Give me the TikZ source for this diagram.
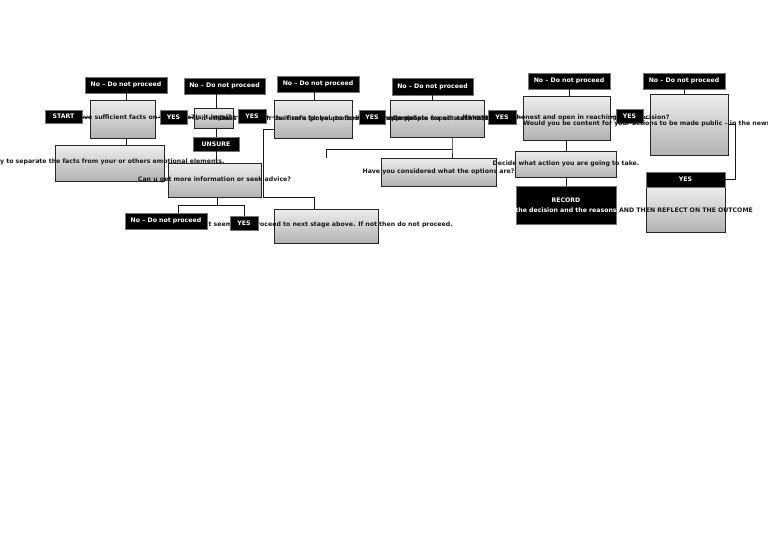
\documentclass[tikz,border=0pt]{standalone}
\usepackage{fontspec}
\newfontfamily\djv{DejaVu Sans}
\newcommand\txtfont{\djv\bfseries\fontsize{6.2}{7}\selectfont}
\tikzset{
  gbox/.style={draw=black!85, line width=0.8pt, top color=black!7, bottom color=black!30, inner sep=0pt},
  bbox/.style={fill=black, draw=black!55, line width=0.4pt, text=white, font=\txtfont, inner sep=0pt},
  txt/.style={font=\txtfont, text=black!90, inner sep=0pt},
  wtxt/.style={font=\txtfont, text=white, inner sep=0pt},
  conn/.style={draw=black!90, line width=0.7pt}
}
\begin{document}
\begin{tikzpicture}[x=1pt,y=-1pt]
\useasboundingbox[fill=white] (0,0) rectangle (768,543);
% grey boxes
\node[gbox, minimum width=65pt, minimum height=38pt] (b1) at (122.5,119) {};
\node[gbox, minimum width=39pt, minimum height=20pt] (b2) at (213.5,118) {};
\node[gbox, minimum width=78pt, minimum height=38pt] (b3) at (313,119) {};
\node[gbox, minimum width=94pt, minimum height=37pt] (b4) at (437,118.5) {};
\node[gbox, minimum width=87pt, minimum height=44pt] (b5) at (566.5,118) {};
\node[gbox, minimum width=78pt, minimum height=61pt] (b6) at (689,124.5) {};
\node[gbox, minimum width=109pt, minimum height=36pt] (b1b) at (109.5,163) {};
\node[gbox, minimum width=93pt, minimum height=34pt] (b2b) at (214.5,180) {};
\node[gbox, minimum width=104pt, minimum height=34pt] (b3b) at (326,226) {};
\node[gbox, minimum width=115pt, minimum height=28pt] (b4b) at (438.5,172) {};
\node[gbox, minimum width=101pt, minimum height=26pt] (b5b) at (565.5,164) {};
\node[gbox, minimum width=79pt, minimum height=45pt] (b6b) at (685.5,209.5) {};
% texts of grey boxes
\node[txt] (t1) at (122,117.5) {Do you have sufficient facts on the issue?};
\node[txt] (t2a) at (213.5,118) {Is it legal?};
\node[txt] (t2b) at (214.5,118) {Is it ethical?};
\node[txt] (t3a) at (318,118.5) {Does it fit with the firm's global professional standards?};
\node[txt] (t3b) at (320,118.5) {Is it safe for you to do it?};
\node[txt] (t4a) at (437,118.5) {Is it appropriate for all stakeholders?};
\node[txt] (t4b) at (445,118.5) {Do people expect each other?};
\node[txt] (t5) at (566,118) {Have you been honest and open in reaching your decision?};
\node[txt] (t1b) at (109,162) {Try to separate the facts from your or others emotional elements.};
\node[txt] (t2bb) at (214.5,180) {Can u get more information or seek advice?};
\node[txt] (t3bb) at (326,225) {If it seems OK, proceed to next stage above. If not then do not proceed.};
\node[txt] (t4bb) at (438.5,172) {Have you considered what the options are?};
\node[txt] (t5bb) at (566,164) {Decide what action you are going to take.};
% black boxes
\node[bbox, minimum width=82pt, minimum height=16pt] (n1) at (126,85) {No – Do not proceed};
\node[bbox, minimum width=81pt, minimum height=16pt] (n2) at (224.5,86) {No – Do not proceed};
\node[bbox, minimum width=82pt, minimum height=16pt] (n3) at (318,84) {No – Do not proceed};
\node[bbox, minimum width=81pt, minimum height=17pt] (n4) at (432.5,86.5) {No – Do not proceed};
\node[bbox, minimum width=82pt, minimum height=16pt] (n5) at (569,81) {No – Do not proceed};
\node[bbox, minimum width=82pt, minimum height=16pt] (n6) at (684,81) {No – Do not proceed};
\node[bbox, minimum width=37pt, minimum height=13pt] (start) at (63.5,116.5) {START};
\node[bbox, minimum width=27pt, minimum height=14pt] (y1) at (173.5,117) {YES};
\node[bbox, minimum width=28pt, minimum height=14pt] (y2) at (252,116) {YES};
\node[bbox, minimum width=26pt, minimum height=14pt] (y3) at (372,117) {YES};
\node[bbox, minimum width=28pt, minimum height=14pt] (y4) at (502,117) {YES};
\node[bbox, minimum width=27pt, minimum height=14pt] (y5) at (629.5,116) {YES};
\node[bbox, minimum width=46pt, minimum height=14pt] (unsure) at (216,144) {UNSURE};
\node[bbox, minimum width=82pt, minimum height=16pt] (nob) at (166,221) {No – Do not proceed};
\node[bbox, minimum width=28pt, minimum height=14pt] (yb) at (244,223) {YES};
\node[bbox, minimum width=100pt, minimum height=38pt] (rec) at (566,205) {};
\node[wtxt] (trec1) at (566,200) {RECORD};
\node[wtxt] (trec2) at (566,210) {the decision and the reasons};
\node[bbox, minimum width=79pt, minimum height=15pt] (yh) at (685.5,179.5) {YES};
% late texts
\node[txt] (t6) at (689,124) {Would you be content for your actions to be made public – in the newspapers or on television?};
\node[txt] (t6b) at (686,210) {AND THEN REFLECT ON THE OUTCOME};
% connectors
\coordinate (j1) at (217,205);
\coordinate (j2) at (314,197);
\coordinate (j3) at (452,149);
\coordinate (fe) at (326,158);
\draw[conn] (start) -- (b1);
\draw[conn] (b1) -- (y1);
\draw[conn] (y1) -- (b2);
\draw[conn] (b2) -- (y2);
\draw[conn] (y2) -- (b3);
\draw[conn] (b3) -- (y3);
\draw[conn] (y3) -- (b4);
\draw[conn] (b4) -- (y4);
\draw[conn] (y4) -- (b5);
\draw[conn] (b5) -- (y5);
\draw[conn] (y5) -- (b6);
\draw[conn] (n1.south) -- (n1.south |- b1.north);
\draw[conn] (b1.south -| n1.south) -- (n1.south |- b1b.north);
\draw[conn] (n2.south -| unsure) -- (unsure |- b2.north);
\draw[conn] (b2.south -| unsure) -- (unsure.north);
\draw[conn] (unsure.south) -- (unsure |- b2b.north);
\draw[conn] (b2b.south -| j1) -- (j1);
\draw[conn] (j1) -| ([xshift=12pt]nob.north);
\draw[conn] (j1) -| (yb.north);
\draw[conn] ([yshift=-10pt]b3.west) -- ++(-10,0) |- (j2) -- (j2 |- b3b.north);
\draw[conn] (n3.south -| j2) -- (j2 |- b3.north);
\draw[conn] (n4.south) -- (n4.south |- b4.north);
\draw[conn] (b4.south -| j3) -- (j3) -- (j3 |- b4b.north);
\draw[conn] (j3) -| (fe);
\draw[conn] (n5.south) -- (n5.south |- b5.north);
\draw[conn] (b5.south) -- (b5.south |- b5b.north);
\draw[conn] (b5b.south -| b5.south) -- (b5.south |- rec.north);
\draw[conn] (n6.south) -- (n6.south |- b6.north);
\draw[conn] (b6.east) -- ++(7,0) |- (yh.east);
\end{tikzpicture}
\end{document}
